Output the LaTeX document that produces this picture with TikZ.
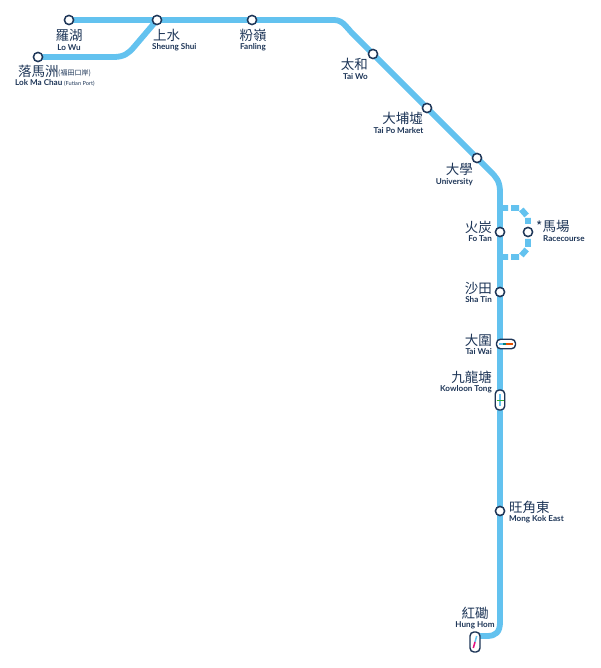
\documentclass[tikz,border=0pt]{standalone}
\usepackage{fontspec}
\setmainfont{Lato}
\newfontfamily\cjk{Noto Sans CJK TC}
\definecolor{linecol}{HTML}{63C2EF}
\definecolor{navy}{HTML}{1D3557}
\tikzset{
  x=1pt,y=-1pt,
  railline/.style={draw=linecol,line width=5.8pt,line join=round},
  racing/.style={railline,dash pattern=on 8pt off 3pt on 8pt off 3pt on 8pt off 3pt on 6pt off 15pt on 8pt off 3pt on 8pt off 3pt on 8pt off 3pt on 8pt off 3pt},
  stn/.style={circle,draw=navy,fill=white,line width=1.5pt,minimum size=9.2pt,inner sep=0pt},
  capsule/.style={rounded corners=4pt,draw=navy,fill=white,line width=1.4pt,inner sep=0pt},
  zh/.style={text=navy,inner sep=0pt,font=\cjk\fontsize{13.5}{14}\selectfont},
  en/.style={text=navy,inner sep=0pt,font=\fontsize{8.1}{9}\selectfont\bfseries},
  small/.style={text=navy,inner sep=0pt,font=\cjk\fontsize{7}{8}\selectfont},
  smallen/.style={text=navy,inner sep=0pt,font=\fontsize{5.6}{6}\selectfont},
}
\begin{document}
\begin{tikzpicture}
\useasboundingbox (0,0) rectangle (600,668);
% stations coordinates
\coordinate (lowuP) at (69,20);
\coordinate (sheungP) at (157,20);
\coordinate (fanlingP) at (252,20);
\coordinate (lmcP) at (38,57);
\coordinate (taiwoP) at (373,54);
\coordinate (tpmP) at (427,108);
\coordinate (uniP) at (477,158);
\coordinate (fotanP) at (500,232);
\coordinate (shatinP) at (500,292);
\coordinate (taiwaiP) at (506,344);
\coordinate (kowloonP) at (500,400);
\coordinate (mkeP) at (500,511);
\coordinate (hhP) at (475,642);
\coordinate (raceP) at (528,232);
\coordinate (raceTop) at (500,208);
\coordinate (raceBot) at (500,257);
% lines
\draw[railline] (lowuP) -- (sheungP) -- (fanlingP) -- (334,20)
  .. controls (343,20) and (347,28) .. (352,33) -- (taiwoP) -- (tpmP) -- (uniP) -- (490,171)
  .. controls (496,177) and (500,181) .. (500,192) -- (fotanP) -- (shatinP) -- (kowloonP) -- (mkeP) -- (500,622)
  .. controls (500,632) and (496,636) .. (487,636) -- (478,636);
\draw[railline] (lmcP) -- (114,57) .. controls (124,57) and (129,53) .. (134,47) -- (sheungP);
\draw[racing] (raceTop) -- (520,208) -- (528,217) -- (raceP) -- (528,248) -- (520,257) -- (raceBot);
% plain stations
\node[stn] (lowu) at (lowuP) {};
\node[stn] (sheung) at (sheungP) {};
\node[stn] (fanling) at (fanlingP) {};
\node[stn] (lmc) at (lmcP) {};
\node[stn] (taiwo) at (taiwoP) {};
\node[stn] (tpm) at (tpmP) {};
\node[stn] (uni) at (uniP) {};
\node[stn] (fotan) at (fotanP) {};
\node[stn] (shatin) at (shatinP) {};
\node[stn] (mke) at (mkeP) {};
\node[stn] (race) at (raceP) {};
% interchange capsules
\node[capsule,minimum width=19pt,minimum height=9.5pt] (taiwai) at (taiwaiP) {};
\draw[line width=1.3pt,draw=linecol] (499,344) -- (503,344);
\draw[line width=1.3pt,draw=teal] (503,344) -- (506,344);
\draw[line width=1.3pt,draw=orange!70!red!90!black] (506,344) -- (513,344);
\node[capsule,minimum width=9.5pt,minimum height=20pt] (kowloon) at (kowloonP) {};
\draw[line width=1.3pt,draw=linecol] (500,394) -- (500,406);
\draw[line width=1.3pt,draw=green!60!black!80] (496.5,400.5) -- (503.5,400.5);
\node[capsule,minimum width=10pt,minimum height=20pt] (hh) at (hhP) {};
\draw[line width=1.5pt,draw=linecol] (476.7,636) -- (475,642);
\draw[line width=1.5pt,draw=magenta!80!purple] (475,642) -- (473.3,648);
% labels
\node[zh] (lz) at (69,35) {羅湖};
\node[en] (le) at (69,47.5) {Lo Wu};
\node[zh,anchor=west] at (153,35) {上水};
\node[en,anchor=west] at (152,47.5) {Sheung Shui};
\node[zh] at (253,35) {粉嶺};
\node[en] at (253,47.5) {Fanling};
\node[zh,anchor=west] at (18,71) {落馬洲};
\node[small,anchor=west] at (58,73) {(福田口岸)};
\node[en,anchor=west] at (15,83) {Lok Ma Chau};
\node[smallen,anchor=west] at (64,83.5) {(Futian Port)};
\node[zh,anchor=east] at (368,64.5) {太和};
\node[en,anchor=east] at (368,76.5) {Tai Wo};
\node[zh,anchor=east] at (423,118.5) {大埔墟};
\node[en,anchor=east] at (423.5,131) {Tai Po Market};
\node[zh,anchor=east] at (473,169.5) {大學};
\node[en,anchor=east] at (473,182) {University};
\node[zh,anchor=east] at (492,227) {火炭};
\node[en,anchor=east] at (492,239) {Fo Tan};
\node[zh,anchor=west] at (536,226.5) {*馬場};
\node[en,anchor=west] at (543,239) {Racecourse};
\node[zh,anchor=east] at (492,288) {沙田};
\node[en,anchor=east] at (492,300) {Sha Tin};
\node[zh,anchor=east] at (492,340) {大圍};
\node[en,anchor=east] at (492,352) {Tai Wai};
\node[zh,anchor=east] at (492,377) {九龍塘};
\node[en,anchor=east] at (492,389) {Kowloon Tong};
\node[zh,anchor=west] at (509,507) {旺角東};
\node[en,anchor=west] at (509,519) {Mong Kok East};
\node[zh] at (475,613) {紅磡};
\node[en] at (475,625.5) {Hung Hom};
\end{tikzpicture}
\end{document}
